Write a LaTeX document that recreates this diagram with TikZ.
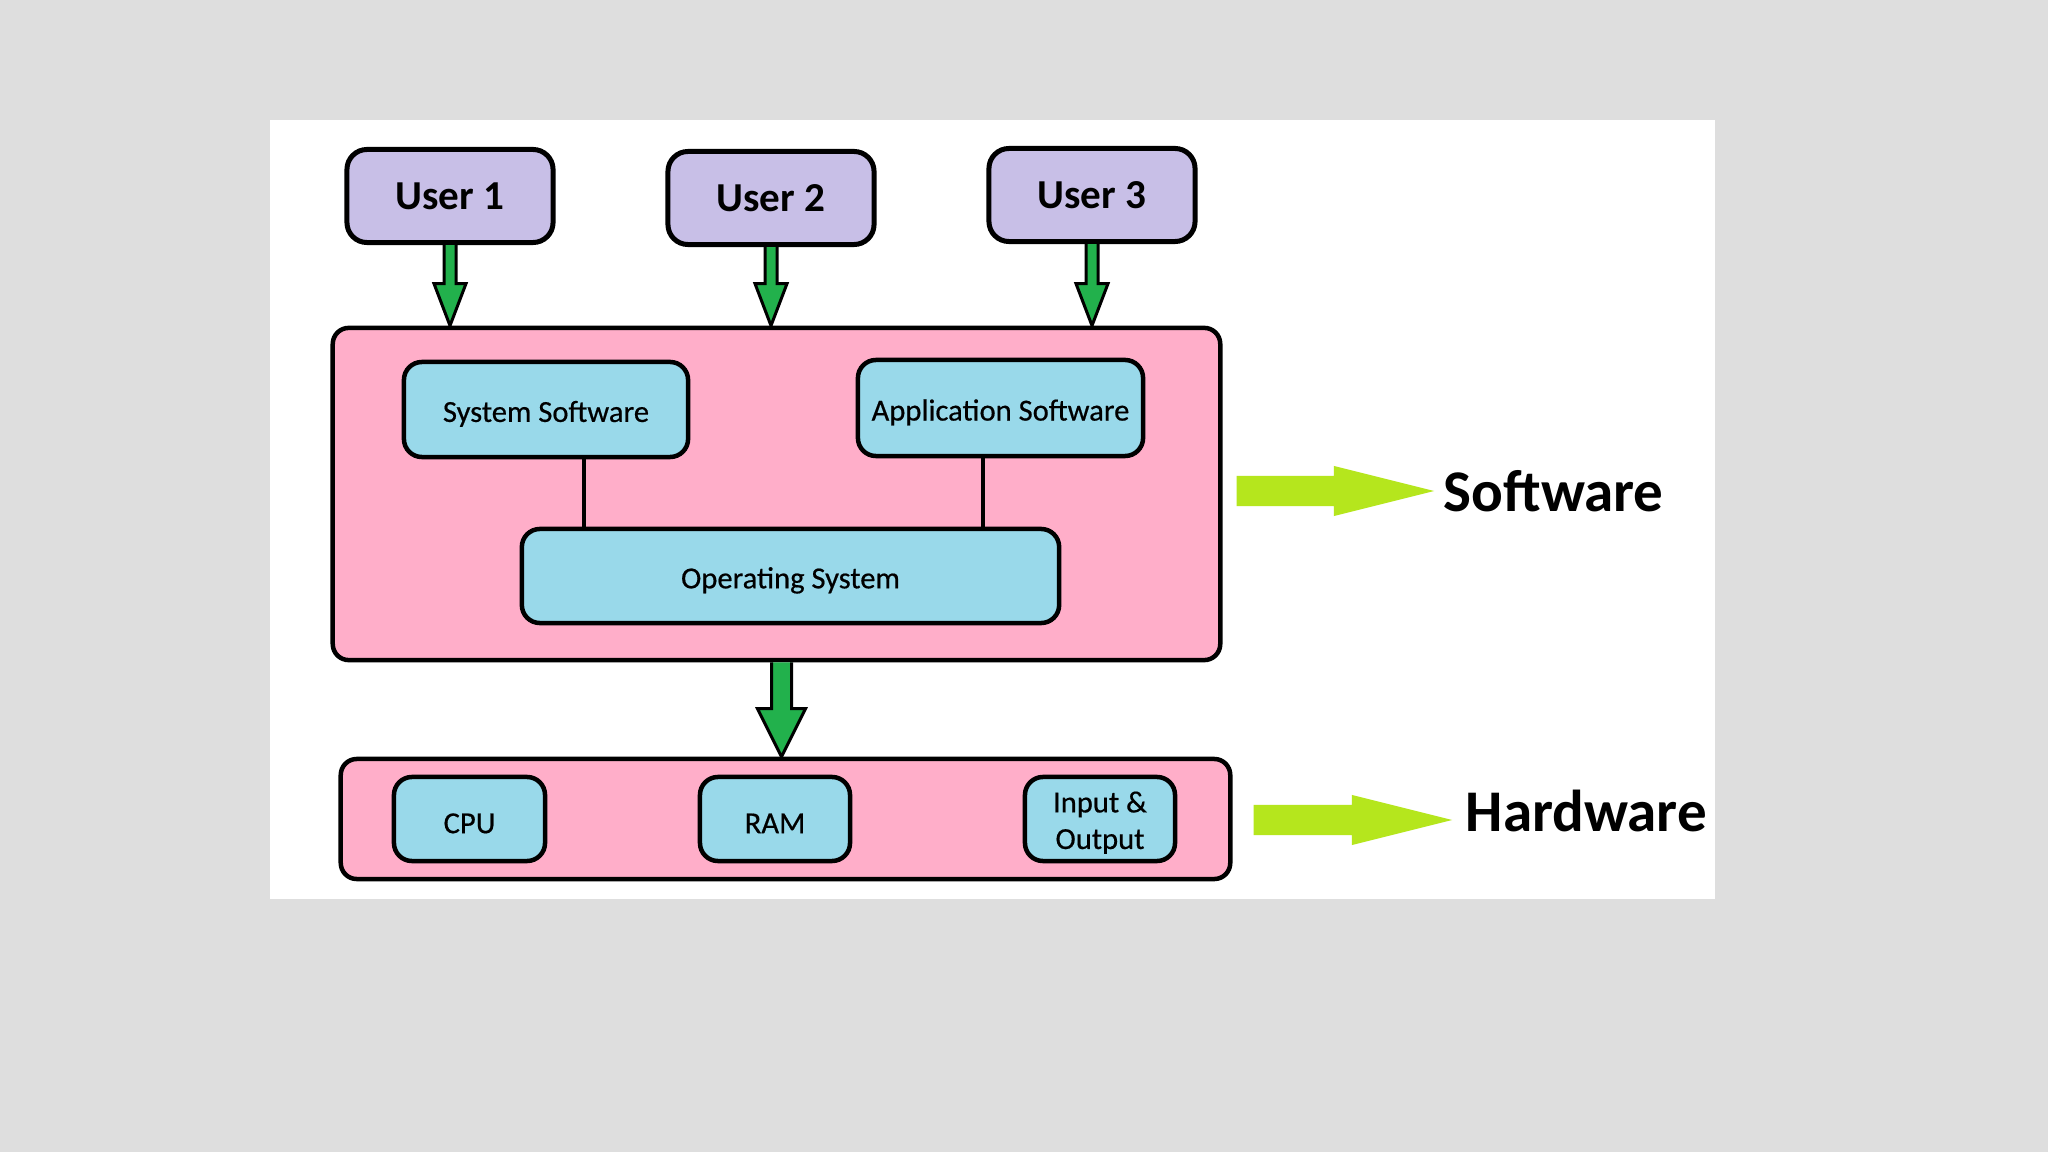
\documentclass[tikz,border=0pt]{standalone}
\usepackage{fontspec}
\setmainfont{Carlito}
\newfontfamily\innerfont{Carlito}[FakeBold=0.5]
\usetikzlibrary{calc}
\definecolor{bggray}{HTML}{DEDEDE}
\definecolor{lav}{RGB}{200,191,231}
\definecolor{rose}{RGB}{255,174,201}
\definecolor{turq}{RGB}{153,217,234}
\definecolor{grn}{RGB}{34,177,76}
\definecolor{limec}{RGB}{181,230,29}
\newcommand{\fatarrow}[5]{%
  \draw[fill=grn, line width=0.03cm, line join=miter]
  let \p1=(#1), \p2=(#1 |- #2) in
  (\x1-#3/2,\y1) -- (\x1-#3/2,\y2+#5) -- (\x1-#4/2,\y2+#5) -- (\x1,\y2)
  -- (\x1+#4/2,\y2+#5) -- (\x1+#3/2,\y2+#5) -- (\x1+#3/2,\y1);
}
\newcommand{\limearrow}[2]{%
  \fill[limec] let \p1=(#1), \p2=(#2) in
  (\x1,\y1-0.15cm) -- (\x2-1.0cm,\y1-0.15cm) -- (\x2-1.0cm,\y1-0.25cm) -- (\x2,\y1)
  -- (\x2-1.0cm,\y1+0.25cm) -- (\x2-1.0cm,\y1+0.15cm) -- (\x1,\y1+0.15cm) -- cycle;
}
\newcommand{\dn}[1]{\raisebox{-0.3ex}[\height][\depth]{#1}}
\begin{document}
\begin{tikzpicture}[x=0.01cm,y=-0.01cm,
  userbox/.style={draw, line width=0.05cm, fill=lav, rounded corners=0.2cm,
    minimum width=2.06cm, minimum height=0.93cm, inner sep=0pt,
    font=\fontsize{11.7}{14}\selectfont\bfseries},
  outerbox/.style={draw, line width=0.045cm, fill=rose, rounded corners=0.16cm, inner sep=0pt},
  innerbox/.style={draw, line width=0.045cm, fill=turq, rounded corners=0.18cm, inner sep=0pt,
    align=center, font=\innerfont\fontsize{8.7}{10.4}\selectfont},
  bigtext/.style={font=\fontsize{16.8}{20}\selectfont\bfseries, inner sep=0pt, anchor=west},
  link/.style={line width=0.04cm}
]
\fill[bggray] (0,0) rectangle (2048,1152);
\fill[white] (270,120) rectangle (1715,899);
\useasboundingbox (0,0) rectangle (2048,1152);

% users
\node[userbox] (u1) at (450,196) {User 1};
\node[userbox] (u2) at (771,198) {User 2};
\node[userbox] (u3) at (1092,195) {User 3};

% software block
\node[outerbox, minimum width=8.87cm, minimum height=3.32cm] (sw) at (776.5,494) {};
\node[innerbox, minimum width=2.84cm, minimum height=0.95cm] (sys) at (546,409.5) {\dn{System Software}};
\node[innerbox, minimum width=2.85cm, minimum height=0.96cm] (app) at (1000.5,408) {\dn{Application Software}};
\node[innerbox, minimum width=5.37cm, minimum height=0.94cm] (os) at (790.5,576) {\dn{Operating System}};
\draw[link] (sys.south -| 584,0) -- (os.north -| 584,0);
\draw[link] (app.south -| 983,0) -- (os.north -| 983,0);

% hardware block
\node[outerbox, minimum width=8.89cm, minimum height=1.20cm] (hw) at (785.5,819) {};
\node[innerbox, minimum width=1.51cm, minimum height=0.84cm] (cpu) at (469.5,819) {\dn{CPU}};
\node[innerbox, minimum width=1.50cm, minimum height=0.84cm] (ram) at (775,819) {\dn{RAM}};
\node[innerbox, minimum width=1.50cm, minimum height=0.84cm] (io) at (1100,819)
  {\dn{\begin{tabular}{@{}c@{}}Input \&\\Output\end{tabular}}};

% green arrows
\fatarrow{u1.south}{sw.north}{0.12cm}{0.32cm}{0.42cm}
\fatarrow{u2.south}{sw.north}{0.12cm}{0.32cm}{0.42cm}
\fatarrow{u3.south}{sw.north}{0.12cm}{0.32cm}{0.42cm}
\coordinate (swbot) at ($(sw.south)+(5,0)$);
\fatarrow{swbot}{hw.north}{0.2cm}{0.48cm}{0.48cm}

% labels and lime arrows
\node[bigtext] (swl) at (1443,491) {Software};
\node[bigtext] (hwl) at (1465,811) {Hardware};
\coordinate (swa) at ($(sw.east)+(14,-3)$);
\coordinate (swb) at (1434,491);
\coordinate (hwa) at ($(hw.east)+(21,1)$);
\coordinate (hwb) at (1452,820);
\limearrow{swa}{swb}
\limearrow{hwa}{hwb}
\end{tikzpicture}
\end{document}
